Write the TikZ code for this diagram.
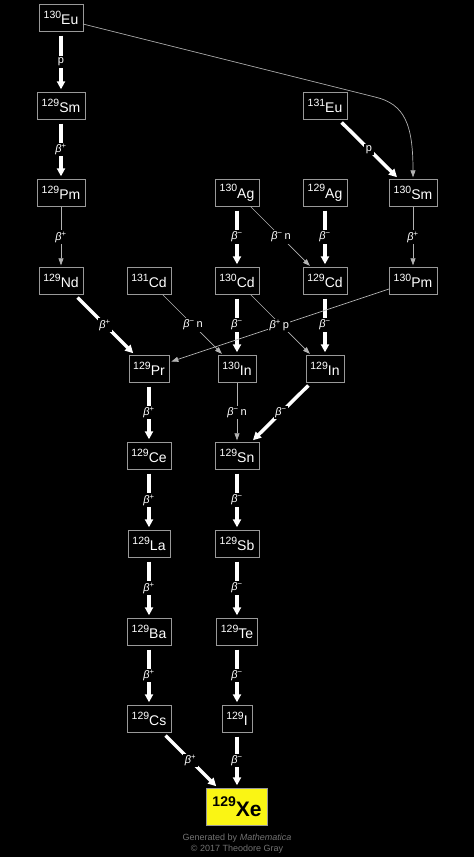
\documentclass[tikz,border=0pt]{standalone}
\usepackage{fontspec}
\setmainfont{Liberation Sans}
\usetikzlibrary{arrows.meta}
\definecolor{xeyellow}{RGB}{250,245,20}
\newcommand{\iso}[2]{\raisebox{6.5pt}{\fontsize{10.5}{10.5}\selectfont #1}{\fontsize{14}{14}\selectfont #2}}
\newcommand{\decP}{\textit{β}\textsuperscript{+}}
\newcommand{\decM}{\textit{β}\textsuperscript{−}}
\begin{document}
\begin{tikzpicture}[x=1pt, y=-1pt,
    nuc/.style={draw=white!60!black, fill=black, text=white, minimum height=27pt, inner xsep=4.5pt, inner ysep=0pt},
    stable/.style={draw=white!60!black, fill=xeyellow, text=black, minimum height=37pt, inner xsep=6pt, inner ysep=0pt, font=\bfseries},
    big/.style={draw=white, line width=3.5pt, -{Triangle[length=8pt,width=8pt]}, shorten <=4pt, shorten >=3pt},
    small/.style={draw=white!70!black, line width=0.7pt, -{Triangle[length=7pt,width=5pt]}, shorten >=2pt},
    lab/.style={fill=black, text=white, inner sep=1.5pt, font=\fontsize{11}{11}\selectfont},
    foot/.style={text=white!45!black, inner sep=0pt, font=\fontsize{9}{9}\selectfont}]
\fill[black] (0,0) rectangle (474,857);
\useasboundingbox (0,0) rectangle (474,857);
% nuclides
\node[nuc] (eu130) at (61,18) {\iso{130}{Eu}};
\node[nuc] (sm129) at (61,106) {\iso{129}{Sm}};
\node[nuc] (pm129) at (61,193) {\iso{129}{Pm}};
\node[nuc] (nd129) at (61,281) {\iso{129}{Nd}};
\node[nuc] (eu131) at (325,106) {\iso{131}{Eu}};
\node[nuc] (ag130) at (237,193) {\iso{130}{Ag}};
\node[nuc] (ag129) at (325,193) {\iso{129}{Ag}};
\node[nuc] (sm130) at (413,193) {\iso{130}{Sm}};
\node[nuc] (cd131) at (149,281) {\iso{131}{Cd}};
\node[nuc] (cd130) at (237,281) {\iso{130}{Cd}};
\node[nuc] (cd129) at (325,281) {\iso{129}{Cd}};
\node[nuc] (pm130) at (413,281) {\iso{130}{Pm}};
\node[nuc] (pr129) at (149,369) {\iso{129}{Pr}};
\node[nuc] (in130) at (237,369) {\iso{130}{In}};
\node[nuc] (in129) at (325,369) {\iso{129}{In}};
\node[nuc] (ce129) at (149,456) {\iso{129}{Ce}};
\node[nuc] (sn129) at (237,456) {\iso{129}{Sn}};
\node[nuc] (la129) at (149,544) {\iso{129}{La}};
\node[nuc] (sb129) at (237,544) {\iso{129}{Sb}};
\node[nuc] (ba129) at (149,632) {\iso{129}{Ba}};
\node[nuc] (te129) at (237,632) {\iso{129}{Te}};
\node[nuc] (cs129) at (149,719) {\iso{129}{Cs}};
\node[nuc] (i129) at (237,719) {\iso{129}{I}};
\node[stable] (xe129) at (237,807) {\raisebox{10pt}{\fontsize{14}{14}\selectfont 129}{\fontsize{21}{21}\selectfont Xe}};
% decays
\draw[big](eu130)--node[lab]{p}(sm129);
\draw[big](sm129)--node[lab]{\decP}(pm129);
\draw[small](pm129)--node[lab]{\decP}(nd129);
\coordinate (bend) at (375,97);
\draw[small]([yshift=-6pt]eu130.east)--(bend) .. controls (405,104) and (413,125) .. (sm130.north);
\draw[big](eu131)--node[lab]{p}(sm130);
\draw[small](sm130)--node[lab]{\decP}(pm130);
\draw[big](ag130)--node[lab]{\decM}(cd130);
\draw[small](ag130)--node[lab]{\decM\,n}(cd129);
\draw[big](ag129)--node[lab]{\decM}(cd129);
\draw[big](nd129)--node[lab]{\decP}(pr129);
\draw[small](cd131)--node[lab]{\decM\,n}(in130);
\draw[big](cd130)--node[lab]{\decM}(in130);
\draw[small](cd130)--(in129);
\draw[big](cd129)--node[lab]{\decM}(in129);
\draw[small](pm130)--node[lab]{\decP\,p}(pr129);
\draw[big](pr129)--node[lab]{\decP}(ce129);
\draw[small](in130)--node[lab]{\decM\,n}(sn129);
\draw[big](in129)--node[lab]{\decM}(sn129);
\draw[big](ce129)--node[lab]{\decP}(la129);
\draw[big](la129)--node[lab]{\decP}(ba129);
\draw[big](ba129)--node[lab]{\decP}(cs129);
\draw[big](sn129)--node[lab]{\decM}(sb129);
\draw[big](sb129)--node[lab]{\decM}(te129);
\draw[big](te129)--node[lab]{\decM}(i129);
\draw[big](i129)--node[lab]{\decM}(xe129);
\draw[big](cs129)--node[lab]{\decP}(xe129);
% footer
\node[foot] (gen) at (237,838) {Generated by \textit{Mathematica}};
\node[foot] (copy) at (237,849) {© 2017 Theodore Gray};
\end{tikzpicture}
\end{document}
